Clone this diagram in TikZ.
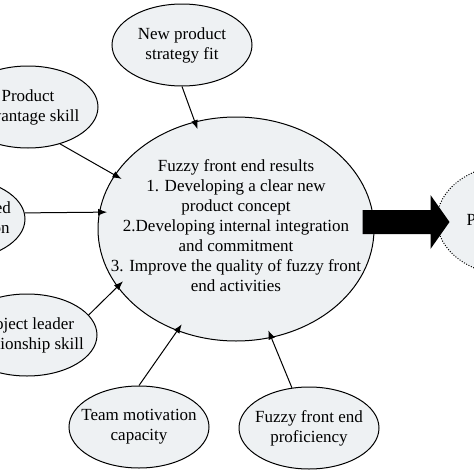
\documentclass[tikz,border=0pt]{standalone}
\usepackage{fontspec}
\setmainfont{Liberation Serif}
\usetikzlibrary{shapes.geometric,arrows.meta}

\definecolor{bubblefill}{RGB}{238,241,243}
\tikzset{
  bubble/.style={ellipse,draw,line width=1pt,fill=bubblefill,inner sep=0pt,
    minimum width=140pt,minimum height=82pt},
  outcome/.style={bubble,dash pattern=on 1pt off 1.6pt,
    minimum width=146pt,minimum height=110pt},
  caption/.style={align=center,inner sep=0pt,font=\fontsize{17}{20}\selectfont},
  feed/.style={-{Latex[length=9pt,width=7pt]},line width=1pt,shorten >=-8pt},
}

\begin{document}
\begin{tikzpicture}[x=1pt,y=-1pt]
  \useasboundingbox (0,0) rectangle (474,474);
  \clip (0,0) rectangle (474,474);

  \node[bubble,minimum width=276pt,minimum height=224pt] (R) at (236,229) {};
  \node[bubble] (S) at (182,45) {};
  \node[bubble] (A) at (28,107) {};
  \node[bubble] (M) at (-45,219) {};
  \node[bubble] (L) at (27,335) {};
  \node[bubble] (T) at (139,427) {};
  \node[bubble] (F) at (309,428) {};
  \node[outcome] (P) at (510,220) {};

  \node[caption] at ([yshift=3pt]R) {Fuzzy front end results\\1. Developing a clear new\\product concept\\2.Developing internal integration\\and commitment\\3. Improve the quality of fuzzy front\\end activities};
  \node[caption] at (S) {New product\\strategy fit};
  \node[caption] at (A) {Product\\advantage skill};
  \node[caption] at (M) {Resource shared\\and cooperation};
  \node[caption] at (L) {Project leader\\relationship skill};
  \node[caption] at (T) {Team motivation\\capacity};
  \node[caption] at (F) {Fuzzy front end\\proficiency};
  \node[caption] at (P) {Performance};

  \path[feed] (S.south) edge (R.111);
  \path[feed] (A.-49) edge (R.156);
  \path[feed] (M.5) edge (R.173);
  \path[feed] (L.18) edge (R.206);
  \path[feed] (T.north) edge (R.240);
  \path[feed] (F.113) edge (R.288);

  % big arrow towards the outcome
  \coordinate (tail) at ([xshift=-12pt,yshift=7pt]R.east);
  \fill (tail) ++(0,-12) -- ++(68,0) -- ++(0,-15) -- ++(19,27)
    -- ++(-19,27) -- ++(0,-15) -- ++(-68,0) -- cycle;
\end{tikzpicture}
\end{document}
